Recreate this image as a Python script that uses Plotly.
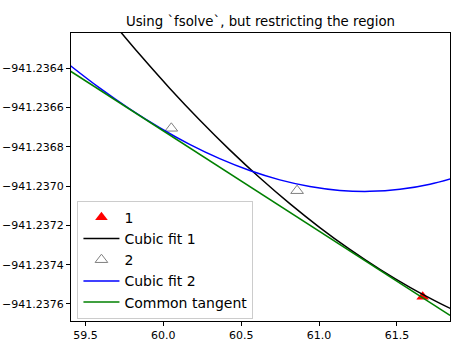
import plotly.graph_objects as go

# Data
pts1_x = [61.6653]
pts1_y = [-941.2375629]

fit1_x = [59.6865, 59.8473, 60.0402, 60.2331, 60.4260, 60.6190, 60.8119,
          61.0048, 61.1977, 61.3907, 61.5836, 61.7765, 61.8730]
fit1_y = [-941.2361775, -941.2363288, -941.2365011, -941.2366632, -941.2368153,
          -941.2369573, -941.2370892, -941.2372110, -941.2373226, -941.2374242,
          -941.2375157, -941.2375971, -941.2376340]

pts2_x = [60.0511, 60.8588]
pts2_y = [-941.2367055, -941.2370232]

fit2_x = [59.3650, 59.5900, 59.7830, 59.9759, 60.1688, 60.3617, 60.5547,
          60.7476, 60.9405, 61.1334, 61.3264, 61.5193, 61.7122, 61.8730]
fit2_y = [-941.2363628, -941.2365000, -941.2366067, -941.2367026, -941.2367874,
          -941.2368602, -941.2369207, -941.2369681, -941.2370019, -941.2370217,
          -941.2370267, -941.2370164, -941.2369902, -941.2369559]

tan_x = [59.3971, 60.6190, 61.8408]
tan_y = [-941.2364112, -941.2370349, -941.2376586]

x_ticks = [59.5, 60.0, 60.5, 61.0, 61.5]
y_ticks = [-941.2376, -941.2374, -941.2372, -941.2370, -941.2368, -941.2366, -941.2364]

fig = go.Figure()
fig.add_trace(go.Scatter(x=pts1_x, y=pts1_y, mode="markers", name="1",
                         marker=dict(symbol="triangle-up", size=11, color="#ff0000")))
fig.add_trace(go.Scatter(x=fit1_x, y=fit1_y, mode="lines", name="Cubic fit 1",
                         line=dict(color="black", width=1.5, shape="spline")))
fig.add_trace(go.Scatter(x=pts2_x, y=pts2_y, mode="markers", name="2",
                         marker=dict(symbol="triangle-up-open", size=11, color="#808080",
                                     line=dict(width=1, color="#808080"))))
fig.add_trace(go.Scatter(x=fit2_x, y=fit2_y, mode="lines", name="Cubic fit 2",
                         line=dict(color="#0000ff", width=1.5, shape="spline")))
fig.add_trace(go.Scatter(x=tan_x, y=tan_y, mode="lines", name="Common tangent",
                         line=dict(color="#008000", width=1.5)))

axis_common = dict(showline=True, linecolor="black", linewidth=1, mirror=True,
                   ticks="outside", ticklen=4, tickcolor="black", showgrid=False,
                   zeroline=False, automargin=False, tickfont=dict(size=11, color="black"))

fig.update_layout(
    width=474, height=358,
    margin=dict(l=71, r=24, t=33, b=37),
    paper_bgcolor="white", plot_bgcolor="white",
    font=dict(family="DejaVu Sans", color="black"),
    title=dict(text="Using `fsolve`, but restricting the region", x=(71 + 450) / 2 / 474,
               xanchor="center", y=1 - 21 / 358, yanchor="middle", font=dict(size=13.3)),
    xaxis=dict(range=[59.4068, 61.8408], tickvals=x_ticks, tickformat=".1f", **axis_common),
    yaxis=dict(range=[-941.237687, -941.236220], tickvals=y_ticks, tickformat=".4f", **axis_common),
    showlegend=True,
    legend=dict(x=0.017, y=0.008, xanchor="left", yanchor="bottom",
                bgcolor="rgba(255,255,255,0.85)", bordercolor="#cccccc", borderwidth=1,
                font=dict(size=14), tracegroupgap=0, itemwidth=36),
)

fig.write_html("out.html", config={"displayModeBar": False},
               post_script="document.body.style.margin='0';document.body.style.overflow='hidden';")
